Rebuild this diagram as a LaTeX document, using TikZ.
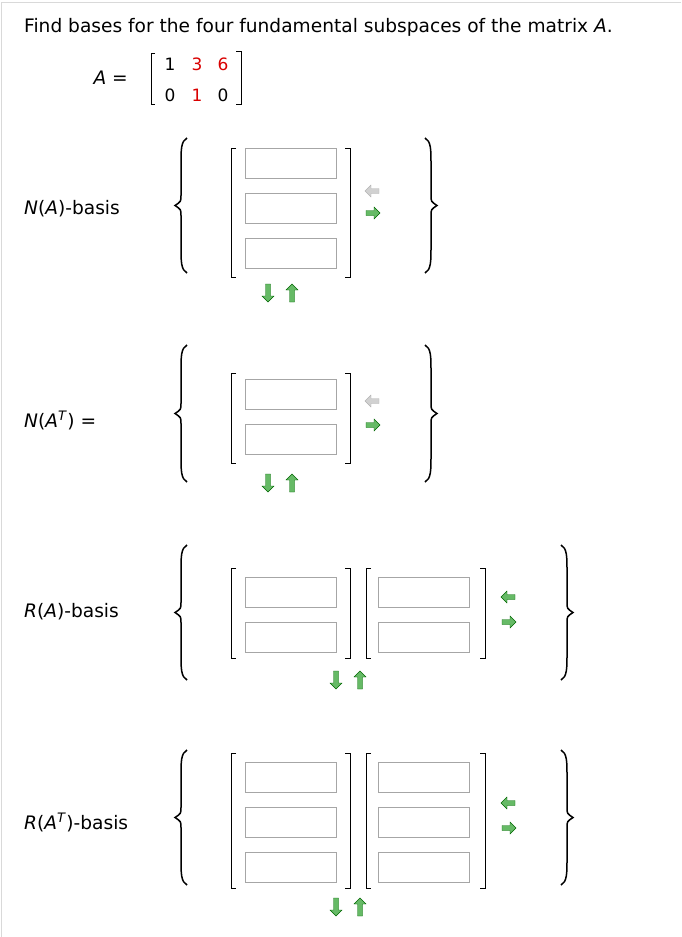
\documentclass[tikz,border=0pt]{standalone}
\usepackage{fontspec}
\setmainfont{DejaVu Sans}
\begin{document}
\begin{tikzpicture}[x=1pt,y=-1pt,
  lbl/.style={anchor=base west,inner sep=0,font=\fontsize{18.6}{22}\selectfont},
  ent/.style={inner sep=0,font=\fontsize{17}{20}\selectfont},
  inbox/.style={draw=black!35,line width=0.9pt,minimum width=91,minimum height=30,inner sep=0,anchor=north west},
  brk/.style={line width=1pt},
  brc/.style={line width=1.5pt},
  grn/.style={fill=green!55!black!60,draw=green!40!black,line width=0.4pt},
  gry/.style={fill=black!18,draw=black!30,line width=0.4pt}]
\useasboundingbox (0,0) rectangle (681,937);
\draw[black!15,line width=1pt] (681,2) -- (1.5,2) -- (1.5,937);
\newcommand\myrarr[3]{\path[#3] (#1-6,#2-2.5) -- (#1+2,#2-2.5) -- (#1+2,#2-6) -- (#1+8,#2) -- (#1+2,#2+6) -- (#1+2,#2+2.5) -- (#1-6,#2+2.5) -- cycle;}
\newcommand\mylarr[3]{\path[#3] (#1+6,#2-2.5) -- (#1-2,#2-2.5) -- (#1-2,#2-6) -- (#1-8,#2) -- (#1-2,#2+6) -- (#1-2,#2+2.5) -- (#1+6,#2+2.5) -- cycle;}
\newcommand\mydarr[3]{\path[#3] (#1-2.5,#2-9) -- (#1+2.5,#2-9) -- (#1+2.5,#2+3) -- (#1+6,#2+3) -- (#1,#2+9) -- (#1-6,#2+3) -- (#1-2.5,#2+3) -- cycle;}
\newcommand\myuarr[3]{\path[#3] (#1-2.5,#2+9) -- (#1+2.5,#2+9) -- (#1+2.5,#2-3) -- (#1+6,#2-3) -- (#1,#2-9) -- (#1-6,#2-3) -- (#1-2.5,#2-3) -- cycle;}
\newcommand\mybrk[4]{\draw[brk] (#1+5,#3) -- (#1,#3) -- (#1,#4) -- (#1+5,#4); \draw[brk] (#2-5,#3) -- (#2,#3) -- (#2,#4) -- (#2-5,#4);}
\newcommand\mylbrace[3]{\draw[brc] (#1+5,#2) .. controls (#1-1,#2+3) and (#1-1,#2+12) .. (#1-1,#2+25) -- (#1-1,{(#2+#3)/2-10}) .. controls (#1-1,{(#2+#3)/2-4}) .. (#1-7,{(#2+#3)/2}) .. controls (#1-1,{(#2+#3)/2+4}) .. (#1-1,{(#2+#3)/2+10}) -- (#1-1,#3-25) .. controls (#1-1,#3-12) and (#1-1,#3-3) .. (#1+5,#3);}
\newcommand\myrbrace[3]{\draw[brc] (#1-5,#2) .. controls (#1+1,#2+3) and (#1+1,#2+12) .. (#1+1,#2+25) -- (#1+1,{(#2+#3)/2-10}) .. controls (#1+1,{(#2+#3)/2-4}) .. (#1+7,{(#2+#3)/2}) .. controls (#1+1,{(#2+#3)/2+4}) .. (#1+1,{(#2+#3)/2+10}) -- (#1+1,#3-25) .. controls (#1+1,#3-12) and (#1+1,#3-3) .. (#1-5,#3);}
% title
\node[lbl] (title) at (24,32) {Find bases for the four fundamental subspaces of the matrix \textit{A}.};
\node[lbl,anchor=base east] (aeq) at (128,84) {\textit{A} =};
\draw[brk] (155,53) -- (151,53) -- (151,104) -- (155,104);
\draw[brk] (236,51) -- (241,51) -- (241,104) -- (236,104);
\node[ent] (a11) at (170,64) {1};
\node[ent,red!85!black] (a12) at (197,64) {3};
\node[ent,red!85!black] (a13) at (223,64) {6};
\node[ent] (a21) at (170,95) {0};
\node[ent,red!85!black] (a22) at (197,95) {1};
\node[ent] (a23) at (223,95) {0};
% section 1
\node[lbl] (l1) at (24,214) {\textit{N}(\textit{A})-basis};
\mylbrace{182}{138}{273}
\myrbrace{430}{138}{273}
\mybrk{231}{350}{148}{277}
\node[inbox] (b11) at (245,148) {};
\node[inbox] (b12) at (245,193) {};
\node[inbox] (b13) at (245,238) {};
\mylarr{373}{191}{gry}
\myrarr{372}{213}{grn}
\mydarr{268}{293}{grn}
\myuarr{292}{293}{grn}
% section 2
\node[lbl] (l2) at (24,427) {\textit{N}(\textit{A}\textsuperscript{\textit{T}}) =};
\mylbrace{182}{345}{482}
\myrbrace{430}{345}{482}
\mybrk{231}{350}{373}{463}
\node[inbox] (b21) at (245,379) {};
\node[inbox] (b22) at (245,424) {};
\mylarr{373}{401}{gry}
\myrarr{372}{425}{grn}
\mydarr{268}{483}{grn}
\myuarr{292}{483}{grn}
% section 3
\node[lbl] (l3) at (24,617) {\textit{R}(\textit{A})-basis};
\mylbrace{182}{545}{680}
\myrbrace{566}{545}{680}
\mybrk{231}{350}{568}{658}
\mybrk{366}{485}{568}{658}
\node[inbox] (b31) at (245,577) {};
\node[inbox] (b32) at (245,622) {};
\node[inbox] (b33) at (378,577) {};
\node[inbox] (b34) at (378,622) {};
\mylarr{509}{597}{grn}
\myrarr{508}{622}{grn}
\mydarr{336}{680}{grn}
\myuarr{360}{680}{grn}
% section 4
\node[lbl] (l4) at (24,829) {\textit{R}(\textit{A}\textsuperscript{\textit{T}})-basis};
\mylbrace{182}{750}{885}
\myrbrace{566}{750}{885}
\mybrk{231}{350}{753}{888}
\mybrk{366}{485}{753}{888}
\node[inbox] (b41) at (245,762) {};
\node[inbox] (b42) at (245,807) {};
\node[inbox] (b43) at (245,852) {};
\node[inbox] (b44) at (378,762) {};
\node[inbox] (b45) at (378,807) {};
\node[inbox] (b46) at (378,852) {};
\mylarr{509}{803}{grn}
\myrarr{508}{828}{grn}
\mydarr{336}{907}{grn}
\myuarr{360}{907}{grn}
\end{tikzpicture}
\end{document}
